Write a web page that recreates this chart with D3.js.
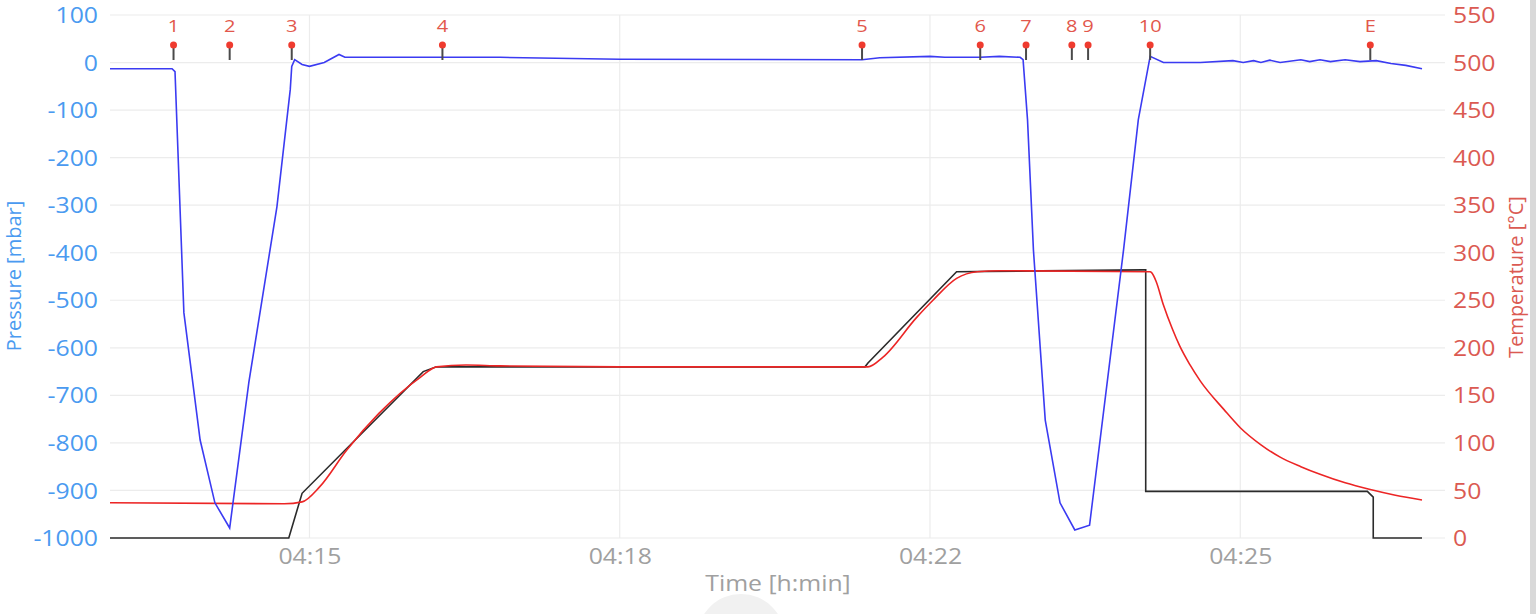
<!DOCTYPE html>
<html>
<head>
<meta charset="utf-8">
<script src="https://cdn.jsdelivr.net/npm/d3@7"></script>
<style>
  html, body { margin: 0; padding: 0; background: #fff; overflow: hidden; }
  svg { display: block; }
</style>
</head>
<body>
<svg id="chart" width="1536" height="614"></svg>
<script>
// ---------------- data ----------------
const pressureTimes = ["04:12:45","04:13:27","04:13:29","04:13:35","04:13:46","04:13:56","04:14:06","04:14:19","04:14:38","04:14:47","04:14:48","04:14:50","04:14:55","04:15:00","04:15:10","04:15:20","04:15:24","04:16:01","04:17:09","04:18:30","04:21:14","04:21:26","04:22:00","04:22:10","04:22:34","04:22:47","04:23:01","04:23:03","04:23:06","04:23:10","04:23:18","04:23:28","04:23:38","04:23:48","04:24:11","04:24:21","04:24:29","04:24:38","04:25:03","04:25:25","04:25:32","04:25:39","04:25:44","04:25:50","04:25:57","04:26:11","04:26:17","04:26:24","04:26:31","04:26:41","04:26:51","04:27:02","04:27:12","04:27:22","04:27:33"];
const pressureValues = [-13,-13,-19,-526,-794,-926,-979,-672,-303,-57,-8,6,-4,-8,0,17,11,11,11,7,6,10,13,11,11,13,11,6,-120,-394,-752,-926,-983,-973,-394,-120,13,0,0,4,0,4,0,5,0,6,2,6,2,6,2,4,-2,-6,-13];

const tempTimes = ["04:12:45","04:14:43","04:14:55","04:15:07","04:15:25","04:15:47","04:16:15","04:16:26","04:16:46","04:17:09","04:18:30","04:21:14","04:21:18","04:21:28","04:21:51","04:22:02","04:22:18","04:22:32","04:22:47","04:24:29","04:24:30","04:24:33","04:24:38","04:24:44","04:24:49","04:24:56","04:25:03","04:25:19","04:25:30","04:25:44","04:25:57","04:26:11","04:26:24","04:26:41","04:26:58","04:27:15","04:27:33"];
const tempValues = [37,36,38,54,92,131,169,180,182,181,180,180,180,190,232,250,273,280,281,280,279,270,245,220,202,182,165,135,116,98,85,75,67,58,51,45,40];

const setpointTimes = ["04:12:45","04:14:46","04:14:55","04:16:17","04:16:26","04:21:16","04:21:18","04:22:18","04:24:24","04:24:26","04:24:26","04:26:56","04:27:00","04:27:00","04:27:33"];
const setpointValues = [0,0,47,175,180,180,184,280,282,282,49,49,43,0,0];

const markerLabels = ["1","2","3","4","5","6","7","8","9","10","E"];
const markerTimes = ["04:13:28","04:14:06","04:14:48","04:16:30","04:21:14","04:22:34","04:23:05","04:23:36","04:23:47","04:24:29","04:26:58"];

const pressureTicks = [100,0,-100,-200,-300,-400,-500,-600,-700,-800,-900,-1000];
const tempTicks = [550,500,450,400,350,300,250,200,150,100,50,0];
const timeTicks = ["04:15:00","04:18:30","04:22:00","04:25:30"];
const timeDomain = ["04:12:45","04:27:33"];

// ---------------- layout ----------------
const parse = d3.timeParse("%H:%M:%S");
const svg = d3.select("#chart");
const L = 110, R = 1422, T = 15, B = 538, GRID_R = 1445;
const SX = 1.18; // horizontal stretch of text in the reference

const x = d3.scaleTime().domain(timeDomain.map(parse)).range([L, R]);
const yP = d3.scaleLinear().domain([-1000, 100]).range([B, T]);
const yT = d3.scaleLinear().domain([0, 550]).range([B, T]);

const font = "'Open Sans', 'Segoe UI', sans-serif";
const blueText = "#4a9af0";
const redText = "#db5a52";
const grayText = "#a0a0a0";

// faint round shape at bottom
svg.append("circle").attr("cx", 741).attr("cy", 638).attr("r", 44).attr("fill", "#f1f1f1");
// right edge bar
svg.append("rect").attr("x", 1530).attr("y", 0).attr("width", 6).attr("height", 614).attr("fill", "#d9d9d9");

// grid
const grid = svg.append("g");
grid.selectAll("line.h").data(pressureTicks).join("line")
  .attr("x1", L).attr("x2", GRID_R)
  .attr("y1", d => yP(d)).attr("y2", d => yP(d))
  .attr("stroke", "#ececec").attr("stroke-width", 1.2);
grid.selectAll("line.v").data(timeTicks.map(parse)).join("line")
  .attr("x1", d => x(d)).attr("x2", d => x(d))
  .attr("y1", T).attr("y2", B)
  .attr("stroke", "#ececec").attr("stroke-width", 1.2);

// axes
const leftAxis = svg.append("g").attr("transform", `translate(${L - 12},0)`)
  .call(d3.axisLeft(yP).tickValues(pressureTicks).tickFormat(d => String(d)).tickSize(0).tickPadding(0));
leftAxis.select(".domain").remove();
leftAxis.selectAll("text").attr("fill", blueText).attr("font-family", font).attr("font-size", 21)
  .attr("dy", "0.36em").attr("transform", `scale(${SX},1)`);

const rightAxis = svg.append("g").attr("transform", `translate(${1453},0)`)
  .call(d3.axisRight(yT).tickValues(tempTicks).tickFormat(d => String(d)).tickSize(0).tickPadding(0));
rightAxis.select(".domain").remove();
rightAxis.selectAll("text").attr("fill", redText).attr("font-family", font).attr("font-size", 21)
  .attr("dy", "0.36em").attr("transform", `scale(${SX},1)`);

const bottomAxis = svg.append("g").attr("transform", `translate(0,${B + 11})`)
  .call(d3.axisBottom(x).tickValues(timeTicks.map(parse)).tickFormat(d3.timeFormat("%H:%M")).tickSize(0).tickPadding(0));
bottomAxis.select(".domain").remove();
bottomAxis.selectAll("text").attr("fill", grayText).attr("font-family", font).attr("font-size", 21)
  .attr("dy", "0.71em").attr("transform", `scale(${SX},1)`);

// axis titles
svg.append("text").attr("transform", "translate(21,276) rotate(-90)")
  .attr("text-anchor", "middle").attr("font-family", font).attr("font-size", 20)
  .attr("fill", blueText).text("Pressure [mbar]");
svg.append("text").attr("transform", "translate(1523,277) rotate(-90)")
  .attr("text-anchor", "middle").attr("font-family", font).attr("font-size", 20)
  .attr("fill", redText).text("Temperature [°C]");
svg.append("text").attr("transform", `translate(778,591) scale(${SX},1)`)
  .attr("text-anchor", "middle").attr("font-family", font).attr("font-size", 21)
  .attr("fill", grayText).text("Time [h:min]");

// lines
const pData = pressureTimes.map((t, i) => ({ t: parse(t), v: pressureValues[i] }));
const tData = tempTimes.map((t, i) => ({ t: parse(t), v: tempValues[i] }));
const sData = setpointTimes.map((t, i) => ({ t: parse(t), v: setpointValues[i] }));

svg.append("path").datum(sData)
  .attr("d", d3.line().x(d => x(d.t)).y(d => yT(d.v)))
  .attr("fill", "none").attr("stroke", "#2b2b2b").attr("stroke-width", 1.6);

svg.append("path").datum(tData)
  .attr("d", d3.line().x(d => x(d.t)).y(d => yT(d.v)).curve(d3.curveMonotoneX))
  .attr("fill", "none").attr("stroke", "#ec2525").attr("stroke-width", 1.6);

svg.append("path").datum(pData)
  .attr("d", d3.line().x(d => x(d.t)).y(d => yP(d.v)))
  .attr("fill", "none").attr("stroke", "#3b3bf2").attr("stroke-width", 1.6);

// markers
const mk = svg.append("g").selectAll("g").data(markerTimes.map((t, i) => ({ t: parse(t), label: markerLabels[i] })))
  .join("g").attr("transform", d => `translate(${x(d.t)},0)`);
mk.append("line").attr("x1", 0).attr("x2", 0).attr("y1", 46).attr("y2", 60)
  .attr("stroke", "#4a4a4a").attr("stroke-width", 2);
mk.append("circle").attr("cx", 0).attr("cy", 45).attr("r", 3.5).attr("fill", "#ef3b2f");
mk.append("text").attr("x", 0).attr("y", 32).attr("text-anchor", "middle")
  .attr("transform", `scale(${SX},1)`)
  .attr("font-family", font).attr("font-size", 17).attr("fill", "#e2574c").text(d => d.label);
</script>
</body>
</html>
